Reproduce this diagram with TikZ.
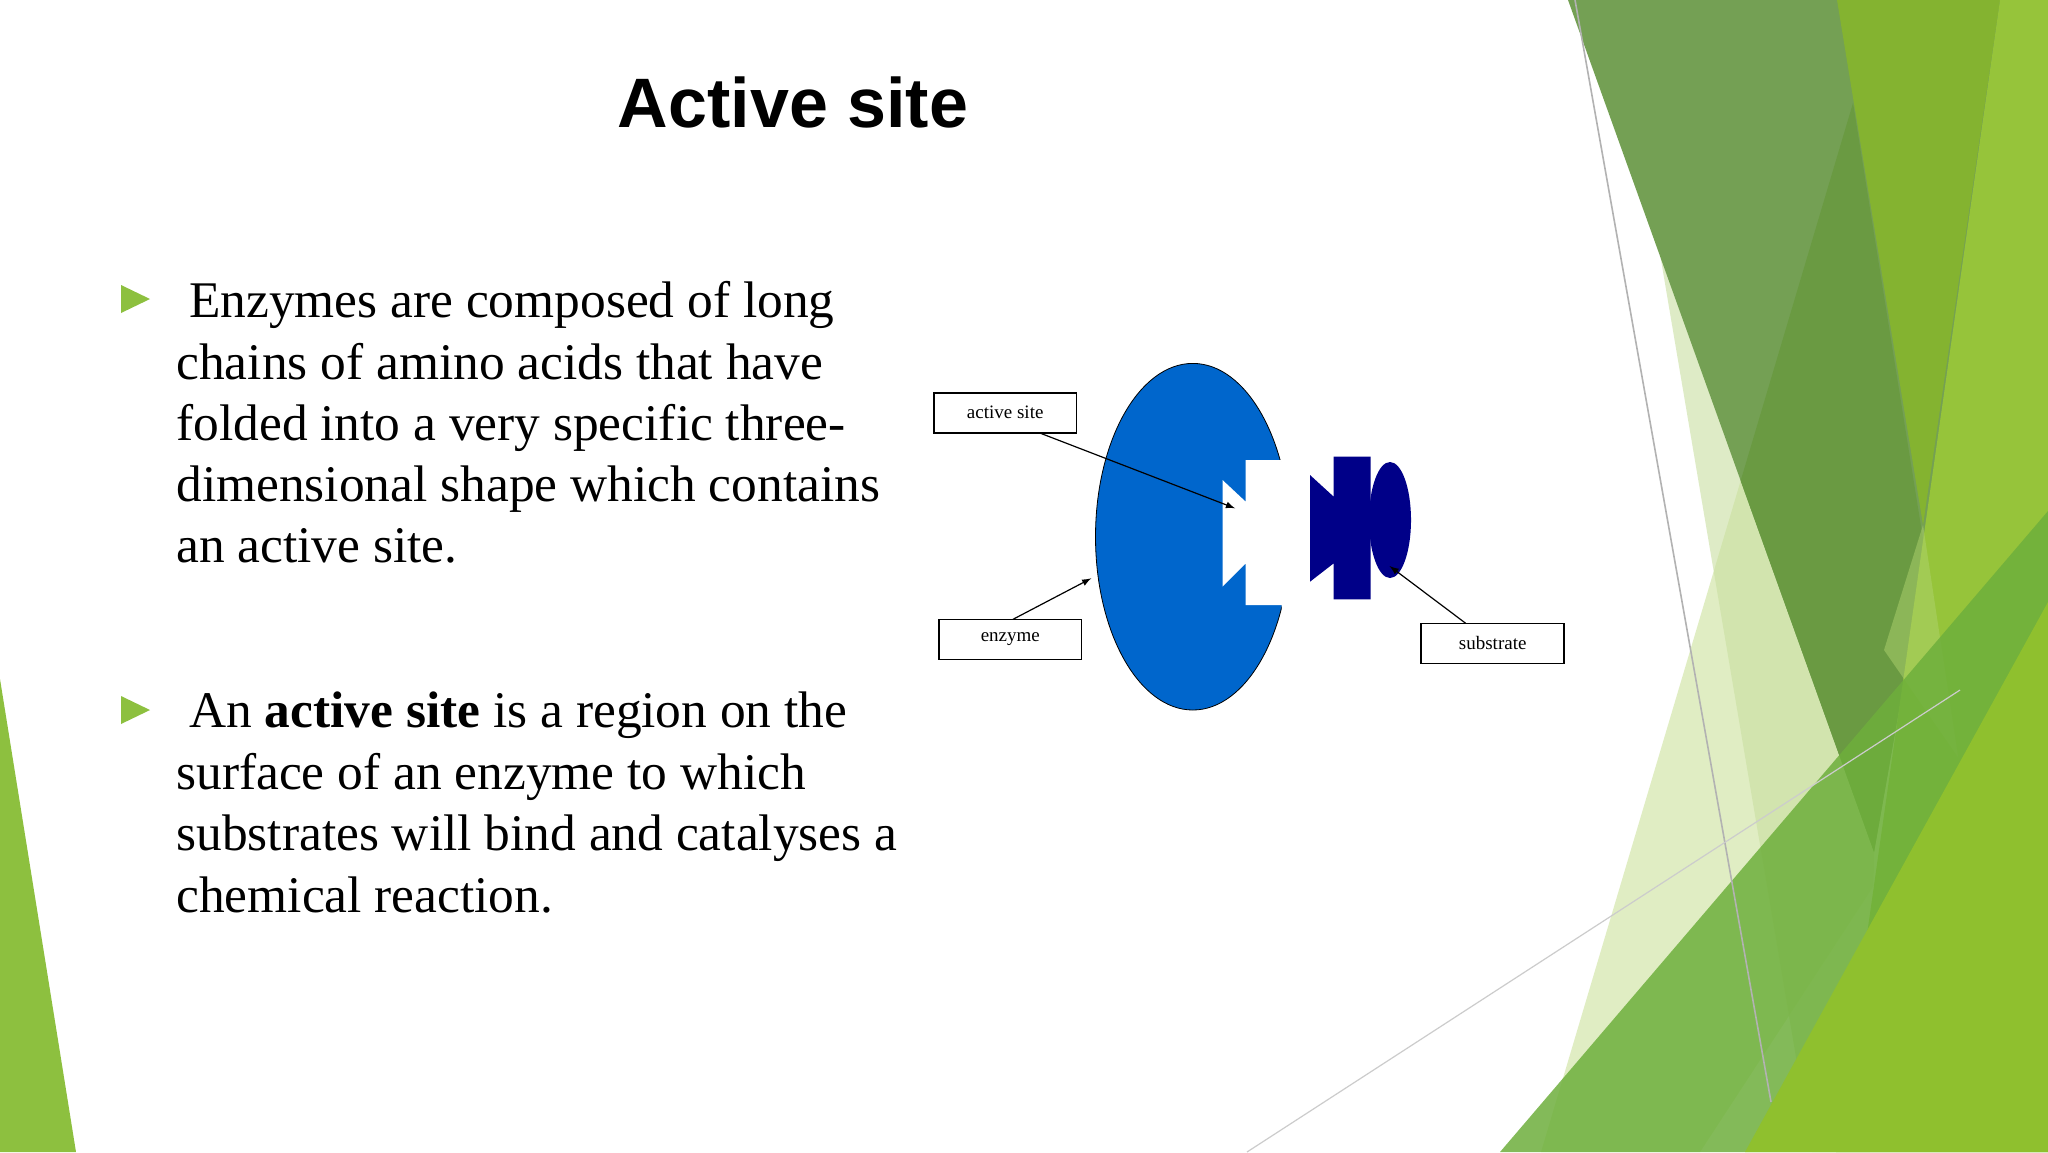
\documentclass[tikz,border=0pt]{standalone}
\usepackage{fontspec}
\setmainfont{Liberation Serif}
\newfontfamily\titlefont{Liberation Sans}
\begin{document}
\begin{tikzpicture}[x=0.5pt,y=-0.5pt,
  body/.style={anchor=base west,inner sep=0pt,font=\fontsize{25.7}{30}\selectfont},
  lbl/.style={draw=black,line width=0.8pt,fill=white,inner sep=0pt,font=\fontsize{9.5}{11}\selectfont},
  bul/.style={fill=bulletgreen,draw=none},
  ptr/.style={-latex,line width=0.6pt}]
\definecolor{bulletgreen}{HTML}{8DC03F}
\definecolor{enzblue}{HTML}{0066CC}
\definecolor{subnavy}{HTML}{000088}
\definecolor{olive}{HTML}{74A054}
\definecolor{olivedark}{HTML}{6A9A42}
\useasboundingbox (0,0) rectangle (2048,1152);
\fill[white] (0,0) rectangle (2048,1152);
% decoration right
\fill[color={rgb,255:red,214;green,232;blue,176},opacity=.75] (1853,103) -- (1958,757) -- (1700,1152) -- (1541,1152) -- cycle;
\fill[color={rgb,255:red,201;green,223;blue,160},opacity=.6] (1617,0) -- (1812,1152) -- (1870,1152) -- (1874,852) -- cycle;
\fill[olive] (1568,0) -- (2024,0) -- (1874,852) -- cycle;
\begin{scope}
\clip (1853,103) -- (1958,757) -- (1700,1152) -- (1541,1152) -- cycle;
\fill[olivedark] (1568,0) -- (2024,0) -- (1874,852) -- cycle;
\end{scope}
\fill[color={rgb,255:red,132;green,179;blue,48}] (1837,0) -- (2000,0) -- (1923,525) -- cycle;
\fill[color={rgb,255:red,150;green,196;blue,58}] (2000,0) -- (2048,0) -- (2048,1152) -- (1836,1152) -- cycle;
\fill[color={rgb,255:red,175;green,210;blue,110},opacity=.5] (1923,525) -- (1958,757) -- (1884,650) -- cycle;
\fill[color={rgb,255:red,110;green,175;blue,60},opacity=.85] (1500,1152) -- (2048,511) -- (2048,1152) -- cycle;
\fill[color={rgb,255:red,143;green,192;blue,46}] (1745,1152) -- (2048,602) -- (2048,1152) -- cycle;
\draw[gray!60,line width=0.8pt] (1575,0) -- (1771,1102);
\draw[gray!40,line width=0.6pt] (1247,1152) -- (1960,690);
% left decoration
\fill[bulletgreen] (0,679) -- (76,1152) -- (0,1152) -- cycle;
% title
\node[font=\titlefont\bfseries\fontsize{35}{40}\selectfont,inner sep=0pt] (title) at (793,102) {Active site};
% bullets
\fill[bul] (121,285) -- (150,299) -- (121,313) -- cycle;
\fill[bul] (121,696) -- (150,710) -- (121,724) -- cycle;
\node[body] (l1) at (176,317) {\ Enzymes are composed of long};
\node[body] (l2) at (176,379) {chains of amino acids that have};
\node[body] (l3) at (176,440) {folded into a very specific three-};
\node[body] (l4) at (176,501) {dimensional shape which contains};
\node[body] (l5) at (176,562) {an active site.};
\node[body] (m1) at (176,727) {\ An \textbf{active site} is a region on the};
\node[body] (m2) at (176,789) {surface of an enzyme to which};
\node[body] (m3) at (176,850) {substrates will bind and catalyses a};
\node[body] (m4) at (176,912) {chemical reaction.};
% enzyme
\begin{scope}
\clip (1000,300) rectangle (1281.7,800);
\fill[enzblue,draw=black,line width=0.4pt] (1192.8,536.7) ellipse [x radius=97.3, y radius=173.3];
\end{scope}
\fill[white] (1281.7,460) -- (1245.7,460) -- (1245.7,501.7) -- (1222.5,480) -- (1222.5,586.7) -- (1245.7,563.3) -- (1245.7,605) -- (1284,605) -- cycle;
% substrate
\fill[subnavy] (1390,520) ellipse [x radius=21, y radius=58];
\fill[subnavy] (1310,475) -- (1333.7,496.7) -- (1333.7,456.7) -- (1370.5,456.7) -- (1370.5,599.3) -- (1333.7,599.3) -- (1333.7,563.3) -- (1310,581.7) -- cycle;
\coordinate (as) at (1235.1,508.3);
\coordinate (ez) at (1091.3,578.3);
\coordinate (sb) at (1389.5,566);
% labels
\node[lbl,minimum width=71.25pt,minimum height=20pt] (bas) at (1005.2,412.7) {active site};
\node[lbl,minimum width=71.3pt,minimum height=20pt] (ben) at (1010.3,639.3) {enzyme};
\node[lbl,minimum width=71.45pt,minimum height=20pt] (bsb) at (1492.7,643.3) {substrate};
\draw[ptr] (1040.6,433.3) -- (as);
\draw[ptr] (1013,619.3) -- (ez);
\draw[ptr] (1465.7,623.3) -- (sb);
\end{tikzpicture}
\end{document}
